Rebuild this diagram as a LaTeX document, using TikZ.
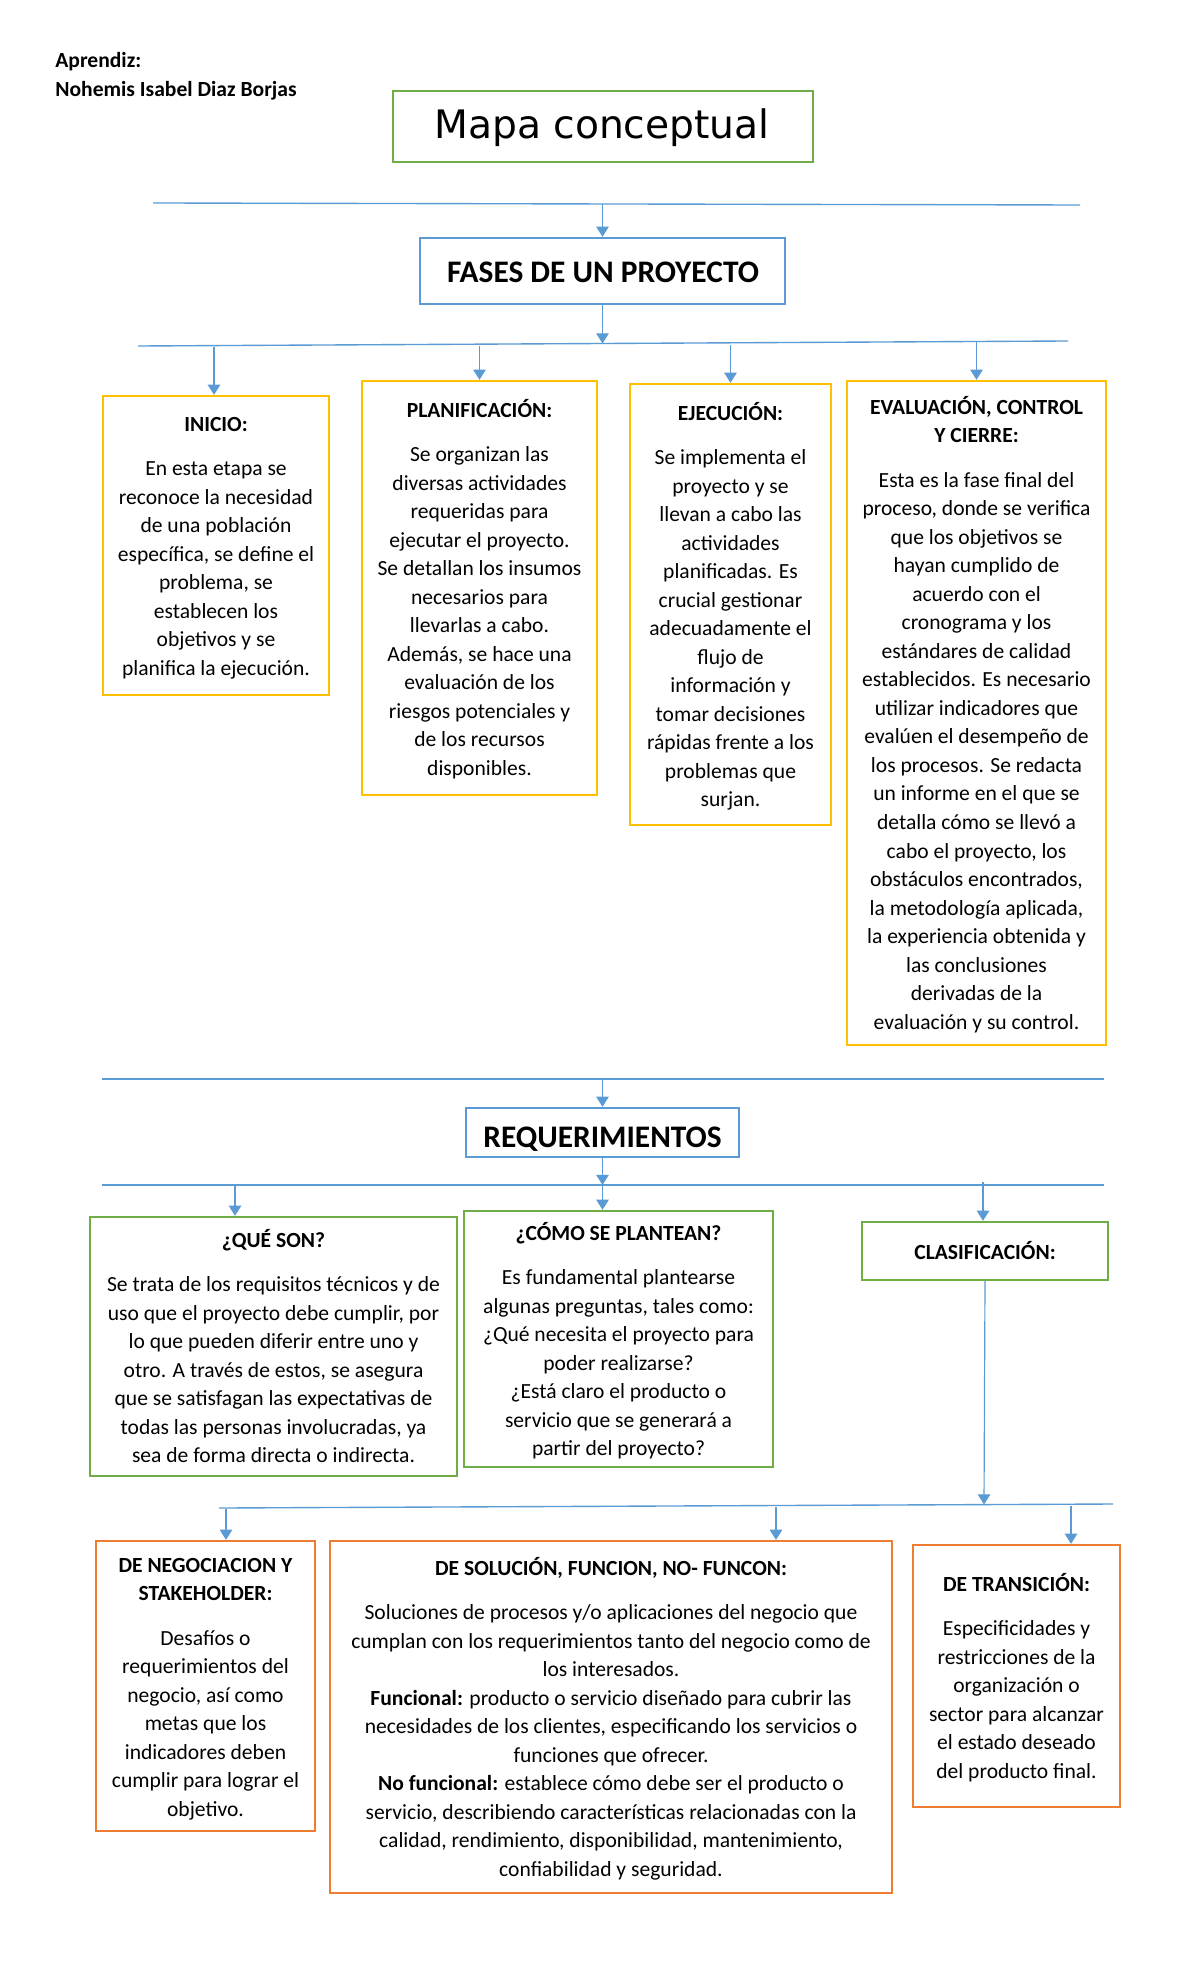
\documentclass[tikz,border=0pt]{standalone}
\usepackage{fontspec}
\setmainfont{Carlito}
\newfontfamily\titlefont{DejaVu Sans}
\usetikzlibrary{arrows.meta,fit}
\definecolor{lblue}{HTML}{5B9BD5}
\definecolor{myyellow}{HTML}{FFC000}
\definecolor{mygreen}{HTML}{70AD47}
\definecolor{myorange}{HTML}{ED7D31}
\begin{document}
\begin{tikzpicture}[x=0.51pt,y=-0.51pt,
  boxbase/.style={inner sep=0pt, line width=1.2pt},
  ybox/.style={boxbase, draw=myyellow},
  gbox/.style={boxbase, draw=mygreen},
  bbox/.style={boxbase, draw=lblue},
  obox/.style={boxbase, draw=myorange},
  txt/.style={align=center, inner sep=0pt, anchor=north, font=\fontsize{11}{14.55}\selectfont},
  head/.style={inner sep=0pt, anchor=base, font=\fontsize{11}{14.55}\selectfont\bfseries},
  big/.style={inner sep=0pt, anchor=base, font=\fontsize{16}{19}\selectfont\bfseries},
  cline/.style={draw=lblue, line width=0.7pt},
  arr/.style={draw=lblue, line width=0.6pt, -{Triangle[length=5.2pt,width=6.4pt]}}
]
\fill[white] (0,0) rectangle (1200,1976);
\useasboundingbox (0,0) rectangle (1200,1976);

% header
\node[inner sep=0pt, anchor=base west, font=\fontsize{11}{14.6}\selectfont\bfseries] (apr) at (55,68) {Aprendiz:};
\node[inner sep=0pt, anchor=base west, font=\fontsize{11}{14.6}\selectfont\bfseries] (nom) at (55,97) {Nohemis Isabel Diaz Borjas};

% title
\node[gbox, fit={(393,91) (813,162)}] (titulo) {};
\node[inner sep=0pt, anchor=base, font=\titlefont\fontsize{20}{24}\selectfont] (tituloT) at (602,139) {Mapa conceptual};

% line 1
\coordinate (l1a) at (153,203);
\coordinate (l1b) at (1080,205);
\coordinate (l1m) at (602.5,204);
\draw[cline] (l1a) -- (l1b);

% FASES
\node[bbox, fit={(420,238) (785,304)}] (fases) {};
\node[big] (fasesT) at (603,283) {FASES DE UN PROYECTO};
\draw[arr] (l1m) -- (fases.north);

% line 2
\coordinate (l2a) at (138,346);
\coordinate (l2b) at (1068,341);
\coordinate (l2m) at (602.5,343.5);
\draw[cline] (l2a) -- (l2b);
\draw[arr] (fases.south) -- (l2m);

% phase boxes
\node[ybox, fit={(103,396) (329,695)}] (inicio) {};
\node[ybox, fit={(362,381) (597,795)}] (planif) {};
\node[ybox, fit={(630,384) (831,825)}] (ejec) {};
\node[ybox, fit={(847,381) (1106,1045)}] (eval) {};

\coordinate (p1) at (214,347);
\coordinate (p2) at (479.5,346);
\coordinate (p3) at (730.5,345);
\coordinate (p4) at (976.5,342);
\draw[arr] (p1) -- (p1 |- inicio.north);
\draw[arr] (p2) -- (planif.north);
\draw[arr] (p3) -- (ejec.north);
\draw[arr] (p4) -- (eval.north);

\node[txt] (inicioT) at (216,411) {\strut\textbf{INICIO:}\\[8pt]
En esta etapa se\\
reconoce la necesidad\\
de una población\\
específica, se define el\\
problema, se\\
establecen los\\
objetivos y se\\
planifica la ejecución.};

\node[txt] (planifT) at (479.5,397) {\strut\textbf{PLANIFICACIÓN:}\\[8pt]
Se organizan las\\
diversas actividades\\
requeridas para\\
ejecutar el proyecto.\\
Se detallan los insumos\\
necesarios para\\
llevarlas a cabo.\\
Además, se hace una\\
evaluación de los\\
riesgos potenciales y\\
de los recursos\\
disponibles.};

\node[txt] (ejecT) at (730.5,400) {\strut\textbf{EJECUCIÓN:}\\[8pt]
Se implementa el\\
proyecto y se\\
llevan a cabo las\\
actividades\\
planificadas. Es\\
crucial gestionar\\
adecuadamente el\\
flujo de\\
información y\\
tomar decisiones\\
rápidas frente a los\\
problemas que\\
surjan.};

\node[txt] (evalT) at (976.5,394) {\strut\textbf{EVALUACIÓN, CONTROL}\\
\textbf{Y CIERRE:}\\[8pt]
Esta es la fase final del\\
proceso, donde se verifica\\
que los objetivos se\\
hayan cumplido de\\
acuerdo con el\\
cronograma y los\\
estándares de calidad\\
establecidos. Es necesario\\
utilizar indicadores que\\
evalúen el desempeño de\\
los procesos. Se redacta\\
un informe en el que se\\
detalla cómo se llevó a\\
cabo el proyecto, los\\
obstáculos encontrados,\\
la metodología aplicada,\\
la experiencia obtenida y\\
las conclusiones\\
derivadas de la\\
evaluación y su control.};

% line 3
\coordinate (l3a) at (102,1079);
\coordinate (l3b) at (1104,1079);
\coordinate (l3m) at (602.5,1079);
\draw[cline] (l3a) -- (l3b);

% REQUERIMIENTOS
\node[bbox, fit={(466,1108) (739,1157)}] (req) {};
\node[big] (reqT) at (602.5,1147) {REQUERIMIENTOS};
\draw[arr] (l3m) -- (req.north);

% line 4
\coordinate (l4a) at (102,1185);
\coordinate (l4b) at (1104,1185);
\coordinate (l4m) at (602.5,1185);
\draw[cline] (l4a) -- (l4b);
\draw[arr] (req.south) -- (l4m);

\node[gbox, fit={(90,1217) (457,1476)}] (que) {};
\node[gbox, fit={(464,1211) (773,1467)}] (como) {};
\node[gbox, fit={(862,1222) (1108,1280)}] (clasif) {};

\coordinate (q1) at (235,1185);
\coordinate (q3) at (983,1182);
\draw[arr] (q1) -- (q1 |- que.north);
\draw[arr] (l4m) -- (l4m |- como.north);
\draw[arr] (q3) -- (q3 |- clasif.north);

\node[txt] (queT) at (273.5,1227) {\strut\textbf{¿QUÉ SON?}\\[8pt]
Se trata de los requisitos técnicos y de\\
uso que el proyecto debe cumplir, por\\
lo que pueden diferir entre uno y\\
otro. A través de estos, se asegura\\
que se satisfagan las expectativas de\\
todas las personas involucradas, ya\\
sea de forma directa o indirecta.};

\node[txt] (comoT) at (618.5,1220) {\strut\textbf{¿CÓMO SE PLANTEAN?}\\[8pt]
Es fundamental plantearse\\
algunas preguntas, tales como:\\
¿Qué necesita el proyecto para\\
poder realizarse?\\
¿Está claro el producto o\\
servicio que se generará a\\
partir del proyecto?};

\node[head] (clasifT) at (985,1259) {CLASIFICACIÓN:};

% line 5
\coordinate (l5a) at (219,1508);
\coordinate (l5b) at (1113,1504);
\coordinate (l5m) at (984,1504.5);
\draw[cline] (l5a) -- (l5b);
\draw[arr] (clasif.south) -- (l5m);

\node[obox, fit={(96,1541) (315,1831)}] (neg) {};
\node[obox, fit={(330,1541) (892,1893)}] (sol) {};
\node[obox, fit={(913,1545) (1120,1807)}] (trans) {};

\coordinate (r1) at (226,1509);
\coordinate (r2) at (776,1507);
\coordinate (r3) at (1071,1506);
\draw[arr] (r1) -- (r1 |- neg.north);
\draw[arr] (r2) -- (r2 |- sol.north);
\draw[arr] (r3) -- (r3 |- trans.north);

\node[txt] (negT) at (205.5,1552) {\strut\textbf{DE NEGOCIACION Y}\\
\textbf{STAKEHOLDER:}\\[8pt]
Desafíos o\\
requerimientos del\\
negocio, así como\\
metas que los\\
indicadores deben\\
cumplir para lograr el\\
objetivo.};

\node[txt] (solT) at (611,1555) {\strut\textbf{DE SOLUCIÓN, FUNCION, NO- FUNCON:}\\[8pt]
Soluciones de procesos y/o aplicaciones del negocio que\\
cumplan con los requerimientos tanto del negocio como de\\
los interesados.\\
\textbf{Funcional:} producto o servicio diseñado para cubrir las\\
necesidades de los clientes, especificando los servicios o\\
funciones que ofrecer.\\
\textbf{No funcional:} establece cómo debe ser el producto o\\
servicio, describiendo características relacionadas con la\\
calidad, rendimiento, disponibilidad, mantenimiento,\\
confiabilidad y seguridad.};

\node[txt] (transT) at (1016.5,1571) {\strut\textbf{DE TRANSICIÓN:}\\[8pt]
Especificidades y\\
restricciones de la\\
organización o\\
sector para alcanzar\\
el estado deseado\\
del producto final.};
\end{tikzpicture}
\end{document}
